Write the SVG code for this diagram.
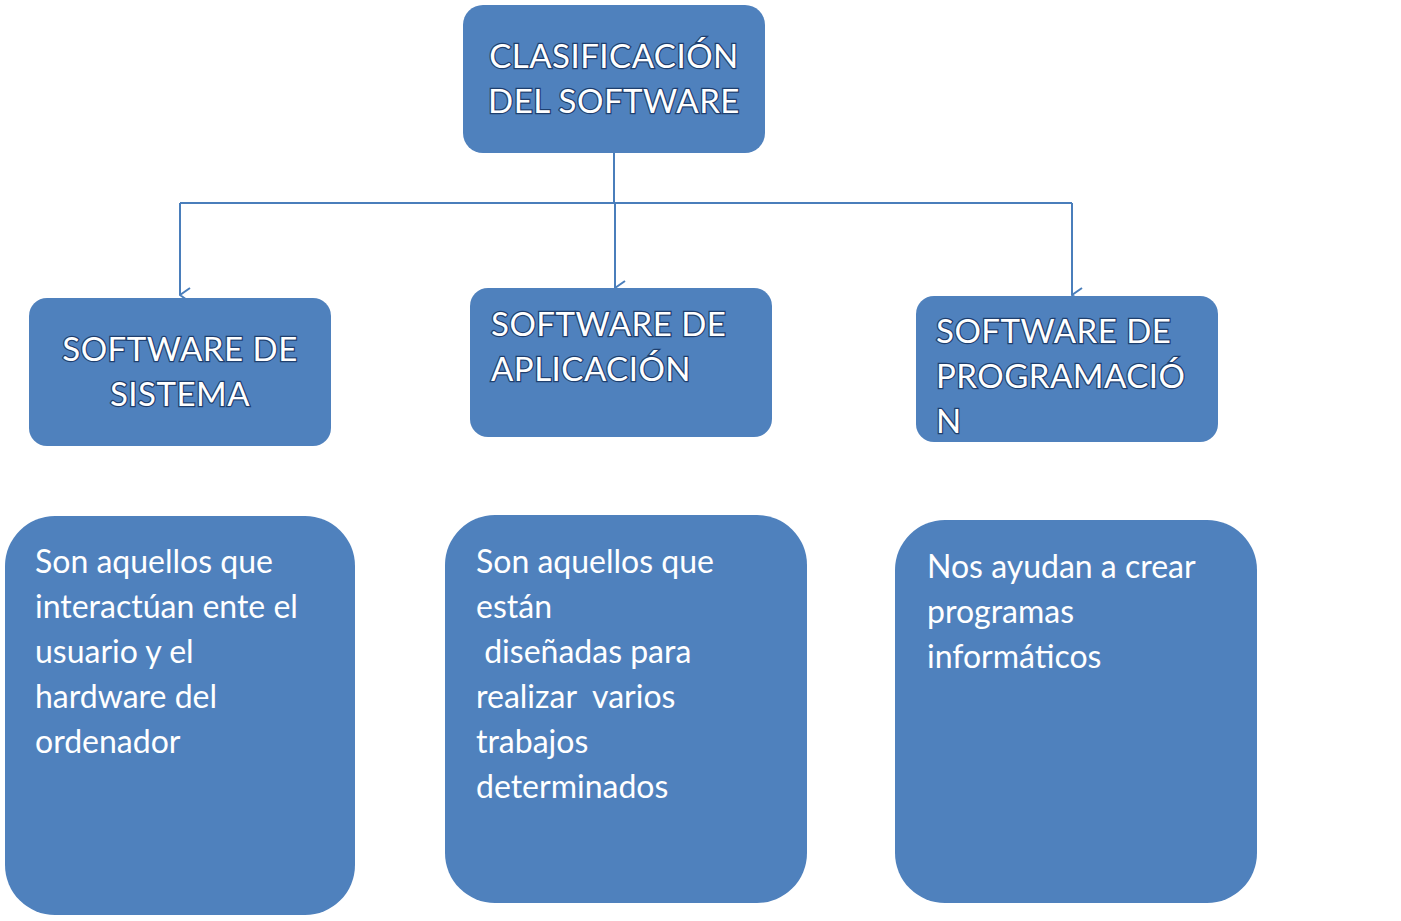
<svg xmlns="http://www.w3.org/2000/svg" width="1401" height="921" viewBox="0 0 1401 921">
<style>
.box{fill:#4F81BD;}
.hd{font-family:Lato,"Open Sans","Liberation Sans",sans-serif;font-size:33px;fill:#fff;stroke:#1F3F6E;stroke-width:2.5px;paint-order:stroke;letter-spacing:0.5px}
.tx{font-family:Lato,"Open Sans","Liberation Sans",sans-serif;font-size:32px;fill:#fff}
.ln{stroke:#4A7EBB;stroke-width:2;fill:none}
</style>
<defs><marker id="a" markerWidth="16" markerHeight="12" refX="8" refY="11" orient="auto-start-reverse" markerUnits="userSpaceOnUse" viewBox="0 0 16 12"><path d="M1,1 L8,11 L15,1" fill="none" stroke="#4A7EBB" stroke-width="2"/></marker></defs>
<rect width="1401" height="921" fill="#fff"/>
<g id="connectors">
<path class="ln" d="M614,153 V203 M180,203 H1072"/>
<path class="ln" d="M180,203 V295" marker-end="url(#a)"/>
<path class="ln" d="M615,203 V288" marker-end="url(#a)"/>
<path class="ln" d="M1072,203 V295" marker-end="url(#a)"/>
</g>
<g id="root"><rect class="box" x="463" y="5" width="302" height="148" rx="20"/>
<text class="hd" x="614" y="68" text-anchor="middle" font-size="36">CLASIFICACIÓN</text>
<text class="hd" x="614" y="113" text-anchor="middle" font-size="36">DEL SOFTWARE</text></g>
<g id="sistema"><rect class="box" x="29" y="298" width="302" height="148" rx="18"/>
<text class="hd" x="180" y="361" text-anchor="middle">SOFTWARE DE</text>
<text class="hd" x="180" y="406" text-anchor="middle">SISTEMA</text></g>
<g id="aplicacion"><rect class="box" x="470" y="288" width="302" height="149" rx="18"/>
<text class="hd" x="491" y="336" font-size="31">SOFTWARE DE</text>
<text class="hd" x="491" y="381" font-size="31">APLICACIÓN</text></g>
<g id="programacion"><rect class="box" x="916" y="296" width="302" height="146" rx="18"/>
<text class="hd" x="936" y="343" font-size="31">SOFTWARE DE</text>
<text class="hd" x="936" y="388" font-size="31">PROGRAMACIÓ</text>
<text class="hd" x="936" y="433" font-size="31">N</text></g>
<g id="desc1"><rect class="box" x="5" y="516" width="350" height="399" rx="50"/>
<text class="tx" x="35" y="573">Son aquellos que</text>
<text class="tx" x="35" y="618">interactúan ente el</text>
<text class="tx" x="35" y="663">usuario y el</text>
<text class="tx" x="35" y="708">hardware del</text>
<text class="tx" x="35" y="753">ordenador</text></g>
<g id="desc2"><rect class="box" x="445" y="515" width="362" height="388" rx="50"/>
<text class="tx" x="476" y="573">Son aquellos que</text>
<text class="tx" x="476" y="618">están</text>
<text class="tx" x="476" y="663" xml:space="preserve"> diseñadas para</text>
<text class="tx" x="476" y="708" xml:space="preserve">realizar  varios</text>
<text class="tx" x="476" y="753">trabajos</text>
<text class="tx" x="476" y="798">determinados</text></g>
<g id="desc3"><rect class="box" x="895" y="520" width="362" height="383" rx="50"/>
<text class="tx" x="927" y="578">Nos ayudan a crear</text>
<text class="tx" x="927" y="623">programas</text>
<text class="tx" x="927" y="668">informáticos</text></g>
</svg>
